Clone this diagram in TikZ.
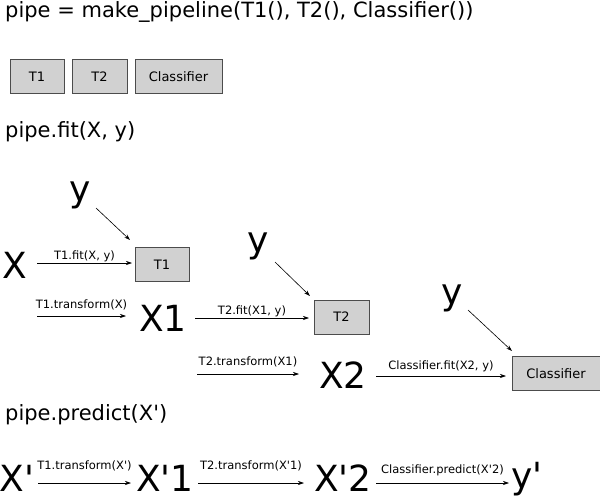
\documentclass[tikz,border=0pt]{standalone}
\usepackage{fontspec}
\setmainfont{DejaVu Sans}
\usetikzlibrary{arrows.meta}
\newcommand\qq{\textquotesingle}
\begin{document}
\begin{tikzpicture}[x=1pt,y=-1pt,
 box/.style={draw=black!70,fill=black!18,minimum height=34pt,font=\fontsize{13}{14}\selectfont,inner sep=0pt},
 big/.style={font=\fontsize{36}{38}\selectfont,inner sep=0pt},
 head/.style={font=\fontsize{21}{23}\selectfont,anchor=west,inner sep=0pt},
 lab/.style={font=\fontsize{11.5}{12}\selectfont,inner sep=1pt},
 arr/.style={-{Stealth[length=6pt,width=4pt]},line width=0.6pt}]
\useasboundingbox (0,0) rectangle (600,500);
\node[head] (h1) at (5,12) {pipe = make\_pipeline(T1(), T2(), Classifier())};
\node[box,minimum width=54pt] (b1) at (37,76.5) {T1};
\node[box,minimum width=55pt] (b2) at (99.5,76.5) {T2};
\node[box,minimum width=87pt] (b3) at (178.5,76.5) {Classifier};
\node[head] (h2) at (5,132) {pipe.fit(X, y)};
\node[big] (y1) at (80,195) {y};
\node[big] (x) at (15,265) {X};
\node[box,minimum width=54pt] (t1) at (162,264.5) {T1};
\coordinate (a1) at (132,263);
\draw[arr] (37,263) -- node[lab,above] {T1.fit(X, y)} (a1);
\draw[arr] (96,208) -- (130,240);
\node[big] (y2) at (258,246) {y};
\draw[arr] (275,262) -- (310,296);
\node[big] (x1) at (163,318) {X1};
\draw[arr] (37,316) -- node[lab,above=5pt] {T1.transform(X)} (126,316);
\node[box,minimum width=55pt] (t2) at (341.5,317) {T2};
\draw[arr] (195,318) -- node[lab,above] {T2.fit(X1, y)} (309,318);
\node[big] (y3) at (452,298) {y};
\draw[arr] (468,310) -- (512,351);
\node[big] (x2) at (343,375) {X2};
\draw[arr] (197,374) -- node[lab,above=6pt] {T2.transform(X1)} (299,374);
\node[box,minimum width=88pt] (cl) at (556,373.5) {Classifier};
\draw[arr] (376,376) -- node[lab,above=3pt] {Classifier.fit(X2, y)} (506,376);
\node[head] (h3) at (5,415) {pipe.predict(X\qq)};
\node[big] (xp) at (17,478) {X\qq};
\node[big] (xp1) at (165,478) {X\qq1};
\node[big] (xp2) at (343,478) {X\qq2};
\node[big] (yp) at (527,479) {y\qq};
\draw[arr] (38,483) -- node[lab,above=11pt] {T1.transform(X\qq)} (131,483);
\draw[arr] (198,483) -- node[lab,above=11pt] {T2.transform(X\qq1)} (304,483);
\draw[arr] (376,483) -- node[lab,above=6pt] {Classifier.predict(X\qq2)} (509,483);
\end{tikzpicture}
\end{document}
